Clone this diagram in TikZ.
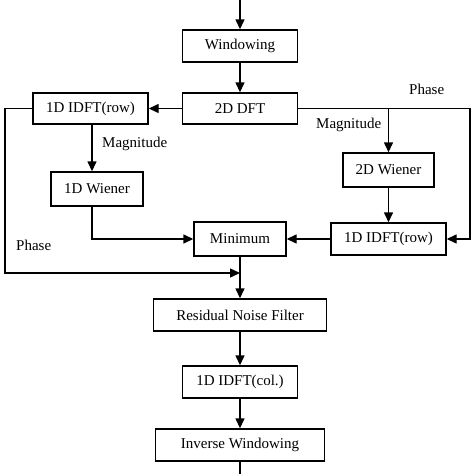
\documentclass[tikz,border=0pt]{standalone}
\usepackage{fontspec}
\setmainfont{Liberation Serif}
\usetikzlibrary{arrows.meta}
\begin{document}
\begin{tikzpicture}[x=1pt,y=-1pt,
  blk/.style={draw,line width=1.4pt,inner sep=0pt,font=\fontsize{15}{17}\selectfont},
  lbl/.style={font=\fontsize{15}{17}\selectfont,inner sep=0pt},
  conn/.style={line width=1.4pt},
  arr/.style={conn,-{Triangle[length=10pt,width=9pt]}}]
\useasboundingbox (0,0) rectangle (474,474);
\fill[white] (0,0) rectangle (474,474);
\node[blk,minimum width=115pt,minimum height=32pt] (win) at (240,46) {Windowing};
\node[blk,minimum width=115pt,minimum height=31pt] (dft) at (240,108.5) {2D DFT};
\node[blk,minimum width=115pt,minimum height=31pt] (lidft) at (90.5,108.5) {1D IDFT(row)};
\node[blk,minimum width=91pt,minimum height=34pt] (wien2) at (388.5,170) {2D Wiener};
\node[blk,minimum width=92pt,minimum height=34pt] (wien1) at (97,189) {1D Wiener};
\node[blk,minimum width=92pt,minimum height=34pt] (min) at (240,239) {Minimum};
\node[blk,minimum width=115pt,minimum height=32pt] (ridft) at (388.5,239) {1D IDFT(row)};
\node[blk,minimum width=173pt,minimum height=32pt] (res) at (240,315) {Residual Noise Filter};
\node[blk,minimum width=115pt,minimum height=32pt] (col) at (240,382) {1D IDFT(col.)};
\node[blk,minimum width=169pt,minimum height=32pt] (inv) at (240,445) {Inverse Windowing};
\coordinate (top) at (240,0);
\coordinate (bot) at (240,474);
\coordinate (rc) at (470,108.5);
\coordinate (br) at (388.5,108.5);
\coordinate (lc) at (5,108.5);
\coordinate (lb) at (5,273);
\coordinate (jn) at (240,273);
\coordinate (wa) at (92,124);
\coordinate (wb) at (92,206);
\coordinate (wc) at (92,239);
\node[lbl,anchor=west] (ph1) at (409,89) {Phase};
\node[lbl,anchor=west] (mg1) at (316,125) {Magnitude};
\node[lbl,anchor=west] (mg2) at (102,144) {Magnitude};
\node[lbl,anchor=west] (ph2) at (16,245) {Phase};
\draw[arr] (top) -- (win.north);
\draw[arr] (win.south) -- (dft.north);
\draw[arr] (dft.west) -- (lidft.east);
\draw[arr] (dft.east) -- (rc) |- (ridft.east);
\draw[arr] (br) -- (wien2.north);
\draw[arr] (wien2.south) -- (ridft.north);
\draw[arr] (ridft.west) -- (min.east);
\draw[arr] (wa) -- (wa |- wien1.north);
\draw[arr] (wb) -- (wc) -- (min.west);
\draw[arr] (lidft.west) -- (lc) -- (lb) -- (jn);
\draw[arr] (min.south) -- (res.north);
\draw[arr] (res.south) -- (col.north);
\draw[arr] (col.south) -- (inv.north);
\draw[conn] (inv.south) -- (bot);
\end{tikzpicture}
\end{document}
